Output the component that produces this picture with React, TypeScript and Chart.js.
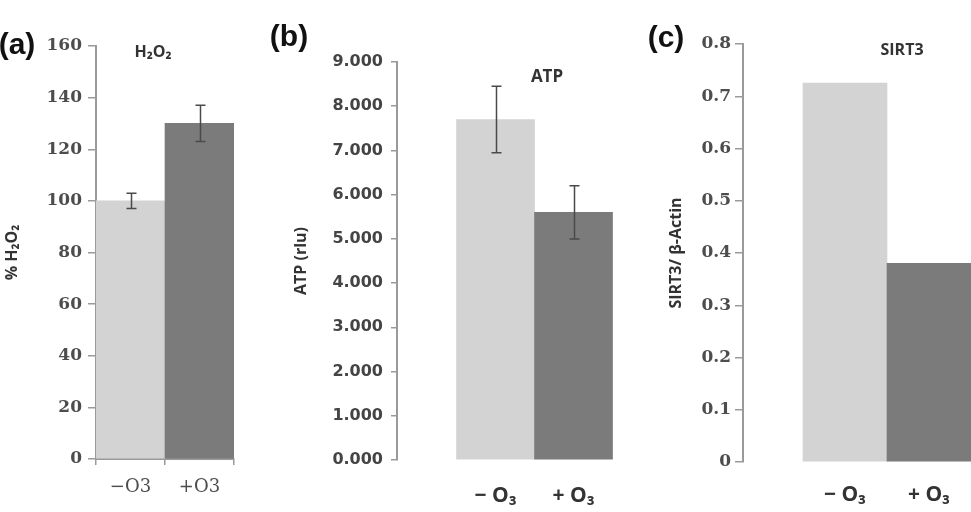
import React, { useEffect, useRef } from 'react';
import { Chart, registerables } from 'chart.js';

Chart.register(...registerables);

// ---------- data ----------
const h2o2Categories = ['−O3', '+O3'];
const h2o2Values = [100, 130];
const h2o2Errors = [3, 7];

const o3Categories = ['− O₃', '+ O₃'];
const atpValues = [7700, 5600];
const atpErrors = [750, 600];

const sirt3Values = [0.725, 0.38];

const barColors = ['#d3d3d3', '#7b7b7b'];

// ---------- helpers ----------
type TextItem = { text: string; x: number; y: number; font: string; color?: string };

function textPlugin(texts: TextItem[]) {
  return {
    id: 'texts',
    afterDraw(chart: any) {
      const ctx = chart.ctx;
      ctx.save();
      ctx.textAlign = 'center';
      ctx.textBaseline = 'middle';
      for (const t of texts) {
        ctx.font = t.font;
        ctx.fillStyle = t.color ?? '#333';
        ctx.fillText(t.text, t.x, t.y);
      }
      ctx.restore();
    },
  };
}

function errorPlugin(errors: number[]) {
  return {
    id: 'errbars',
    afterDatasetsDraw(chart: any) {
      const ctx = chart.ctx;
      const meta = chart.getDatasetMeta(0);
      const ys = chart.scales.y;
      const data = chart.data.datasets[0].data;
      ctx.save();
      ctx.strokeStyle = '#4a4a4a';
      ctx.lineWidth = 1.5;
      meta.data.forEach((bar: any, i: number) => {
        const d = data[i];
        const v = typeof d === 'number' ? d : d.y;
        const e = errors[i];
        const x = Math.round(bar.x) + 0.5;
        const yTop = ys.getPixelForValue(v + e);
        const yBot = ys.getPixelForValue(v - e);
        ctx.beginPath();
        ctx.moveTo(x, yTop);
        ctx.lineTo(x, yBot);
        ctx.moveTo(x - 5, yTop);
        ctx.lineTo(x + 5, yTop);
        ctx.moveTo(x - 5, yBot);
        ctx.lineTo(x + 5, yBot);
        ctx.stroke();
      });
      ctx.restore();
    },
  };
}

const AXIS = '#9a9a9a';
const SERIF = '"DejaVu Serif", serif';
const SANS = '"Open Sans", "DejaVu Sans", sans-serif';

// ---------- panel A ----------
function configA(): any {
  return {
    type: 'bar',
    data: {
      labels: h2o2Categories,
      datasets: [
        {
          data: h2o2Values,
          backgroundColor: barColors,
          borderWidth: 0,
          barPercentage: 1,
          categoryPercentage: 1,
        },
      ],
    },
    options: {
      responsive: false,
      animation: false,
      layout: { padding: { top: 46, right: 16, bottom: 0, left: 3 } },
      plugins: { legend: { display: false }, tooltip: { enabled: false } },
      scales: {
        x: {
          afterFit: (s: any) => { s.height = 53; },
          grid: { offset: true, drawOnChartArea: false, tickLength: 6, color: AXIS, lineWidth: 1.5 },
          border: { color: AXIS, width: 2 },
          ticks: { color: '#4d4d4d', padding: 12, font: { family: SERIF, size: 18 } },
        },
        y: {
          min: 0,
          max: 160,
          afterFit: (s: any) => { s.width = 93; },
          grid: { drawOnChartArea: false, tickLength: 8, color: AXIS, lineWidth: 1.5 },
          border: { color: AXIS, width: 2 },
          ticks: { stepSize: 20, color: '#4d4d4d', padding: 6, font: { family: SERIF, size: 17, weight: 'bold' } },
          title: { display: true, text: '% H₂O₂', color: '#333', padding: 0, font: { family: SANS, size: 16, weight: 'bold' } },
        },
      },
    },
    plugins: [
      errorPlugin(h2o2Errors),
      textPlugin([
        { text: '(a)', x: 17, y: 46, font: `bold 30px "Liberation Sans", Arial, sans-serif`, color: '#111' },
        { text: 'H₂O₂', x: 153, y: 52, font: `bold 16px ${SANS}`, color: '#333' },
      ]),
    ],
  };
}

// ---------- panel B ----------
function configB(): any {
  return {
    type: 'bar',
    data: {
      datasets: [
        {
          data: atpValues.map((v, i) => ({ x: i, y: v })),
          backgroundColor: barColors,
          borderWidth: 0,
          barThickness: 78,
        },
      ],
    },
    options: {
      responsive: false,
      animation: false,
      layout: { padding: { top: 62, right: 7, bottom: 0, left: 42 } },
      plugins: { legend: { display: false }, tooltip: { enabled: false } },
      scales: {
        x: {
          type: 'linear',
          offset: false,
          min: -1.263,
          max: 1.506,
          afterFit: (s: any) => { s.height = 52; },
          afterBuildTicks: (s: any) => { s.ticks = o3Categories.map((_, i) => ({ value: i })); },
          grid: { display: false },
          border: { display: false },
          ticks: {
            callback: (v: any) => o3Categories[v],
            color: '#333',
            padding: 15,
            maxRotation: 0,
            font: { family: SANS, size: 21, weight: 'bold' },
          },
        },
        y: {
          min: 0,
          max: 9000,
          afterFit: (s: any) => { s.width = 105; },
          grid: { drawOnChartArea: false, tickLength: 6, color: AXIS, lineWidth: 1.5 },
          border: { color: AXIS, width: 2 },
          ticks: {
            stepSize: 1000,
            color: '#444',
            padding: 8,
            callback: (v: any) => (Number(v) / 1000).toFixed(3),
            font: { family: '"DejaVu Sans", sans-serif', size: 16, weight: 'bold' },
          },
          title: { display: true, text: 'ATP (rlu)', color: '#333', padding: 0, font: { family: SANS, size: 16, weight: 'bold' } },
        },
      },
    },
    plugins: [
      errorPlugin(atpErrors),
      textPlugin([
        { text: '(b)', x: 39, y: 38, font: `bold 30px "Liberation Sans", Arial, sans-serif`, color: '#111' },
        { text: 'ATP', x: 297, y: 77, font: `bold 17px ${SANS}`, color: '#333' },
      ]),
    ],
  };
}

// ---------- panel C ----------
function configC(): any {
  return {
    type: 'bar',
    data: {
      datasets: [
        {
          data: sirt3Values.map((v, i) => ({ x: i, y: v })),
          backgroundColor: barColors,
          borderWidth: 0,
          barThickness: 84,
        },
      ],
    },
    options: {
      responsive: false,
      animation: false,
      layout: { padding: { top: 44, right: 0, bottom: 0, left: 47 } },
      plugins: { legend: { display: false }, tooltip: { enabled: false } },
      scales: {
        x: {
          type: 'linear',
          offset: false,
          min: -1.214,
          max: 1.5,
          afterFit: (s: any) => { s.height = 50; },
          afterBuildTicks: (s: any) => { s.ticks = o3Categories.map((_, i) => ({ value: i })); },
          grid: { display: false },
          border: { display: false },
          ticks: {
            callback: (v: any) => o3Categories[v],
            color: '#333',
            padding: 12,
            maxRotation: 0,
            font: { family: SANS, size: 21, weight: 'bold' },
          },
        },
        y: {
          min: 0,
          max: 0.8,
          afterFit: (s: any) => { s.width = 76; },
          grid: { drawOnChartArea: false, tickLength: 8, color: AXIS, lineWidth: 1.5 },
          border: { color: AXIS, width: 2 },
          ticks: { stepSize: 0.1, color: '#4d4d4d', padding: 4, font: { family: SERIF, size: 17, weight: 'bold' } },
          title: { display: true, text: 'SIRT3/ β-Actin', color: '#333', padding: 0, font: { family: SANS, size: 16, weight: 'bold' } },
        },
      },
    },
    plugins: [
      textPlugin([
        { text: '(c)', x: 46, y: 39, font: `bold 30px "Liberation Sans", Arial, sans-serif`, color: '#111' },
        { text: 'SIRT3', x: 282, y: 50, font: `bold 16px ${SANS}`, color: '#333' },
      ]),
    ],
  };
}

function Panel({ left, width, config }: { left: number; width: number; config: () => any }) {
  const ref = useRef<HTMLCanvasElement | null>(null);
  useEffect(() => {
    if (!ref.current) return;
    const chart = new Chart(ref.current, config());
    return () => chart.destroy();
  }, []);
  return (
    <canvas
      ref={ref}
      width={width}
      height={512}
      style={{ position: 'absolute', left, top: 0, width, height: 512 }}
    />
  );
}

export default function App() {
  return (
    <div style={{ position: 'absolute', left: 0, top: 0, width: 971, height: 512, background: '#fff', overflow: 'hidden' }}>
      <Panel left={0} width={250} config={configA} />
      <Panel left={250} width={370} config={configB} />
      <Panel left={620} width={351} config={configC} />
    </div>
  );
}
